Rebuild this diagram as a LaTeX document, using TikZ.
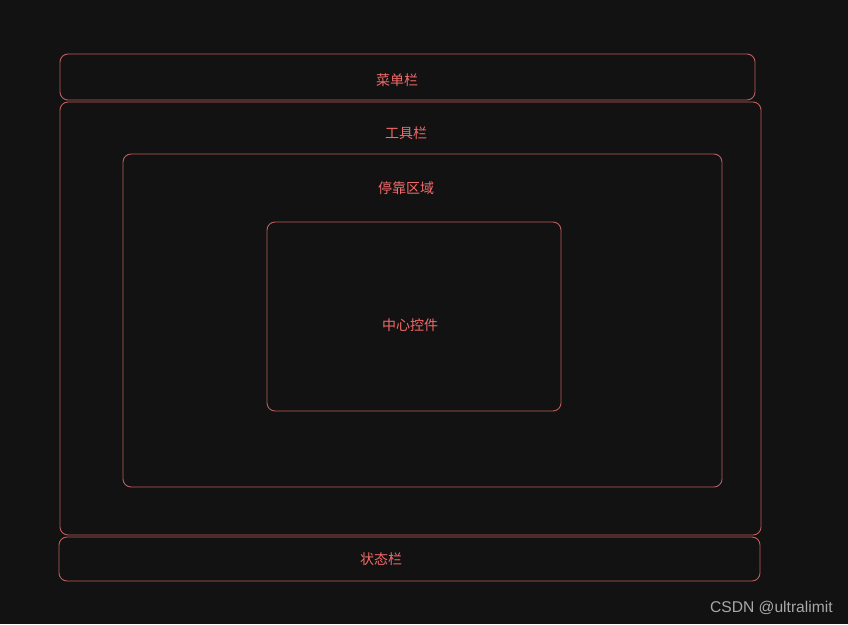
\documentclass[tikz,border=0pt]{standalone}
\usepackage{fontspec}
\setmainfont{Liberation Sans}
\newfontfamily\cjk{Noto Sans CJK SC}
\definecolor{bgc}{HTML}{121212}
\definecolor{edgec}{HTML}{BF5C5C}
\definecolor{txtc}{HTML}{F26A6A}
\definecolor{wmc}{HTML}{A8A8A8}
\begin{document}
\begin{tikzpicture}[x=1pt,y=-1pt,
  panel/.style={draw=edgec,line width=0.9pt,rounded corners=8pt},
  lbl/.style={text=txtc,font=\cjk\fontsize{14}{16}\selectfont,inner sep=0pt}]
\fill[bgc] (0,0) rectangle (848,624);
\useasboundingbox (0,0) rectangle (848,624);
\draw[panel] (60,54) rectangle (755,100);
\draw[panel] (60,102) rectangle (761,535);
\draw[panel] (123,154) rectangle (722,487);
\draw[panel] (267,222) rectangle (561,411);
\draw[panel] (59,537) rectangle (760,581);
\node[lbl] (menu) at (397,80) {菜单栏};
\node[lbl] (tool) at (406,133) {工具栏};
\node[lbl] (dock) at (406,188) {停靠区域};
\node[lbl] (center) at (410,325) {中心控件};
\node[lbl] (status) at (381,559) {状态栏};
\node[anchor=west,text=wmc,font=\fontsize{15.6}{17}\selectfont,inner sep=0pt] (wm) at (710,608) {CSDN @ultralimit};
\end{tikzpicture}
\end{document}
